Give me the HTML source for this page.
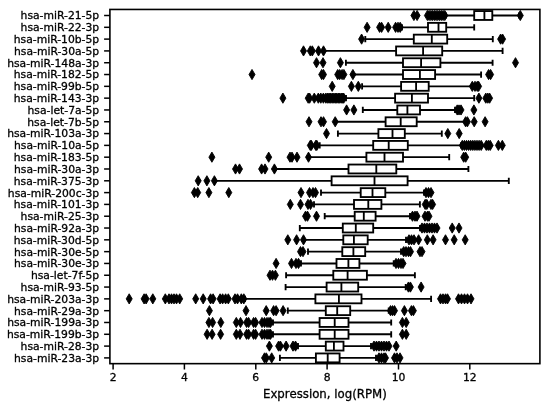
<!DOCTYPE html>
<html><head><meta charset="utf-8"><title>Expression boxplot</title>
<style>html,body{margin:0;padding:0;background:#fff}svg{display:block}text{stroke:#000;stroke-width:0.3px}</style></head>
<body>
<svg width="550" height="406" viewBox="0 0 550 406" font-family="'DejaVu Sans', 'Liberation Sans', sans-serif" fill="#000">
<rect width="550" height="406" fill="#fff"/>
<defs><polygon id="d" points="0,-5.10 3.00,0 0,5.10 -3.00,0" fill="#000" stroke="#000" stroke-width="0.9" stroke-linejoin="miter"/></defs>
<g><path d="M446.0 15.50H474.2M492.4 15.50H519.0M446.0 12.40v6.2M519.0 12.40v6.2" stroke="#000" stroke-width="1.85" fill="none"/><rect x="474.2" y="11.05" width="18.1" height="8.9" fill="#fff" stroke="#000" stroke-width="1.85"/><path d="M484.4 11.05v8.9" stroke="#000" stroke-width="1.85"/><use href="#d" x="413.9" y="15.50"/><use href="#d" x="417.1" y="15.50"/><use href="#d" x="427.4" y="15.50"/><use href="#d" x="429.1" y="15.50"/><use href="#d" x="430.9" y="15.50"/><use href="#d" x="432.6" y="15.50"/><use href="#d" x="434.4" y="15.50"/><use href="#d" x="436.1" y="15.50"/><use href="#d" x="437.8" y="15.50"/><use href="#d" x="439.6" y="15.50"/><use href="#d" x="441.3" y="15.50"/><use href="#d" x="443.1" y="15.50"/><use href="#d" x="444.8" y="15.50"/><use href="#d" x="520.3" y="15.50"/></g>
<g><path d="M402.0 27.31H428.0M446.1 27.31H474.2M402.0 24.21v6.2M474.2 24.21v6.2" stroke="#000" stroke-width="1.85" fill="none"/><rect x="428.0" y="22.86" width="18.2" height="8.9" fill="#fff" stroke="#000" stroke-width="1.85"/><path d="M438.5 22.86v8.9" stroke="#000" stroke-width="1.85"/><use href="#d" x="367.1" y="27.31"/><use href="#d" x="379.6" y="27.31"/><use href="#d" x="381.6" y="27.31"/><use href="#d" x="388.2" y="27.31"/><use href="#d" x="395.6" y="27.31"/><use href="#d" x="398.0" y="27.31"/><use href="#d" x="400.2" y="27.31"/></g>
<g><path d="M365.3 39.11H413.8M447.1 39.11H492.8M365.3 36.01v6.2M492.8 36.01v6.2" stroke="#000" stroke-width="1.85" fill="none"/><rect x="413.8" y="34.66" width="33.4" height="8.9" fill="#fff" stroke="#000" stroke-width="1.85"/><path d="M431.8 34.66v8.9" stroke="#000" stroke-width="1.85"/><use href="#d" x="361.6" y="39.11"/><use href="#d" x="500.6" y="39.11"/><use href="#d" x="502.6" y="39.11"/></g>
<g><path d="M323.5 50.92H396.1M442.1 50.92H502.6M323.5 47.82v6.2M502.6 47.82v6.2" stroke="#000" stroke-width="1.85" fill="none"/><rect x="396.1" y="46.47" width="46.1" height="8.9" fill="#fff" stroke="#000" stroke-width="1.85"/><path d="M423.1 46.47v8.9" stroke="#000" stroke-width="1.85"/><use href="#d" x="303.5" y="50.92"/><use href="#d" x="310.3" y="50.92"/><use href="#d" x="312.3" y="50.92"/><use href="#d" x="318.5" y="50.92"/><use href="#d" x="323.5" y="50.92"/></g>
<g><path d="M345.9 62.73H403.0M440.4 62.73H492.6M345.9 59.63v6.2M492.6 59.63v6.2" stroke="#000" stroke-width="1.85" fill="none"/><rect x="403.0" y="58.28" width="37.4" height="8.9" fill="#fff" stroke="#000" stroke-width="1.85"/><path d="M421.1 58.28v8.9" stroke="#000" stroke-width="1.85"/><use href="#d" x="316.5" y="62.73"/><use href="#d" x="323.0" y="62.73"/><use href="#d" x="340.4" y="62.73"/><use href="#d" x="515.5" y="62.73"/></g>
<g><path d="M353.0 74.53H403.0M435.2 74.53H481.1M353.0 71.44v6.2M481.1 71.44v6.2" stroke="#000" stroke-width="1.85" fill="none"/><rect x="403.0" y="70.08" width="32.1" height="8.9" fill="#fff" stroke="#000" stroke-width="1.85"/><path d="M419.9 70.08v8.9" stroke="#000" stroke-width="1.85"/><use href="#d" x="252.0" y="74.53"/><use href="#d" x="321.7" y="74.53"/><use href="#d" x="323.5" y="74.53"/><use href="#d" x="337.7" y="74.53"/><use href="#d" x="339.7" y="74.53"/><use href="#d" x="342.1" y="74.53"/><use href="#d" x="343.9" y="74.53"/><use href="#d" x="352.9" y="74.53"/><use href="#d" x="488.6" y="74.53"/><use href="#d" x="490.6" y="74.53"/></g>
<g><path d="M362.1 86.34H401.1M428.7 86.34H472.7M362.1 83.24v6.2M472.7 83.24v6.2" stroke="#000" stroke-width="1.85" fill="none"/><rect x="401.1" y="81.89" width="27.6" height="8.9" fill="#fff" stroke="#000" stroke-width="1.85"/><path d="M416.1 81.89v8.9" stroke="#000" stroke-width="1.85"/><use href="#d" x="332.2" y="86.34"/><use href="#d" x="351.4" y="86.34"/><use href="#d" x="358.3" y="86.34"/><use href="#d" x="472.3" y="86.34"/><use href="#d" x="475.0" y="86.34"/><use href="#d" x="477.3" y="86.34"/><use href="#d" x="478.6" y="86.34"/></g>
<g><path d="M346.0 98.15H395.1M427.9 98.15H474.2M346.0 95.05v6.2M474.2 95.05v6.2" stroke="#000" stroke-width="1.85" fill="none"/><rect x="395.1" y="93.70" width="32.9" height="8.9" fill="#fff" stroke="#000" stroke-width="1.85"/><path d="M411.9 93.70v8.9" stroke="#000" stroke-width="1.85"/><use href="#d" x="282.9" y="98.15"/><use href="#d" x="308.2" y="98.15"/><use href="#d" x="309.6" y="98.15"/><use href="#d" x="314.3" y="98.15"/><use href="#d" x="318.3" y="98.15"/><use href="#d" x="320.8" y="98.15"/><use href="#d" x="323.4" y="98.15"/><use href="#d" x="325.9" y="98.15"/><use href="#d" x="327.7" y="98.15"/><use href="#d" x="329.1" y="98.15"/><use href="#d" x="330.7" y="98.15"/><use href="#d" x="332.2" y="98.15"/><use href="#d" x="333.9" y="98.15"/><use href="#d" x="335.4" y="98.15"/><use href="#d" x="336.8" y="98.15"/><use href="#d" x="338.3" y="98.15"/><use href="#d" x="339.7" y="98.15"/><use href="#d" x="341.2" y="98.15"/><use href="#d" x="342.6" y="98.15"/><use href="#d" x="343.7" y="98.15"/><use href="#d" x="478.9" y="98.15"/><use href="#d" x="485.8" y="98.15"/><use href="#d" x="487.8" y="98.15"/><use href="#d" x="489.6" y="98.15"/></g>
<g><path d="M362.8 109.96H397.3M420.0 109.96H455.0M362.8 106.86v6.2M455.0 106.86v6.2" stroke="#000" stroke-width="1.85" fill="none"/><rect x="397.3" y="105.51" width="22.7" height="8.9" fill="#fff" stroke="#000" stroke-width="1.85"/><path d="M407.4 105.51v8.9" stroke="#000" stroke-width="1.85"/><use href="#d" x="346.6" y="109.96"/><use href="#d" x="353.9" y="109.96"/><use href="#d" x="457.2" y="109.96"/><use href="#d" x="459.0" y="109.96"/><use href="#d" x="461.0" y="109.96"/><use href="#d" x="473.9" y="109.96"/></g>
<g><path d="M335.5 121.76H385.6M416.7 121.76H465.0M335.5 118.66v6.2M465.0 118.66v6.2" stroke="#000" stroke-width="1.85" fill="none"/><rect x="385.6" y="117.31" width="31.1" height="8.9" fill="#fff" stroke="#000" stroke-width="1.85"/><path d="M400.7 117.31v8.9" stroke="#000" stroke-width="1.85"/><use href="#d" x="309.0" y="121.76"/><use href="#d" x="321.0" y="121.76"/><use href="#d" x="323.5" y="121.76"/><use href="#d" x="335.2" y="121.76"/><use href="#d" x="465.6" y="121.76"/><use href="#d" x="467.4" y="121.76"/><use href="#d" x="474.2" y="121.76"/><use href="#d" x="485.1" y="121.76"/></g>
<g><path d="M337.9 133.57H378.4M404.8 133.57H441.8M337.9 130.47v6.2M441.8 130.47v6.2" stroke="#000" stroke-width="1.85" fill="none"/><rect x="378.4" y="129.12" width="26.4" height="8.9" fill="#fff" stroke="#000" stroke-width="1.85"/><path d="M392.5 129.12v8.9" stroke="#000" stroke-width="1.85"/><use href="#d" x="326.5" y="133.57"/><use href="#d" x="447.8" y="133.57"/><use href="#d" x="459.2" y="133.57"/></g>
<g><path d="M319.7 145.38H373.2M407.8 145.38H461.0M319.7 142.28v6.2M461.0 142.28v6.2" stroke="#000" stroke-width="1.85" fill="none"/><rect x="373.2" y="140.93" width="34.6" height="8.9" fill="#fff" stroke="#000" stroke-width="1.85"/><path d="M388.7 140.93v8.9" stroke="#000" stroke-width="1.85"/><use href="#d" x="310.3" y="145.38"/><use href="#d" x="311.3" y="145.38"/><use href="#d" x="315.8" y="145.38"/><use href="#d" x="316.8" y="145.38"/><use href="#d" x="462.3" y="145.38"/><use href="#d" x="464.4" y="145.38"/><use href="#d" x="466.5" y="145.38"/><use href="#d" x="468.6" y="145.38"/><use href="#d" x="470.7" y="145.38"/><use href="#d" x="472.8" y="145.38"/><use href="#d" x="474.9" y="145.38"/><use href="#d" x="477.0" y="145.38"/><use href="#d" x="479.1" y="145.38"/><use href="#d" x="481.2" y="145.38"/><use href="#d" x="486.3" y="145.38"/><use href="#d" x="488.3" y="145.38"/><use href="#d" x="490.2" y="145.38"/><use href="#d" x="498.4" y="145.38"/><use href="#d" x="502.3" y="145.38"/></g>
<g><path d="M309.0 157.18H366.4M403.0 157.18H449.2M309.0 154.08v6.2M449.2 154.08v6.2" stroke="#000" stroke-width="1.85" fill="none"/><rect x="366.4" y="152.73" width="36.6" height="8.9" fill="#fff" stroke="#000" stroke-width="1.85"/><path d="M384.5 152.73v8.9" stroke="#000" stroke-width="1.85"/><use href="#d" x="211.9" y="157.18"/><use href="#d" x="268.7" y="157.18"/><use href="#d" x="290.0" y="157.18"/><use href="#d" x="292.0" y="157.18"/><use href="#d" x="297.0" y="157.18"/><use href="#d" x="308.5" y="157.18"/><use href="#d" x="463.7" y="157.18"/><use href="#d" x="465.7" y="157.18"/></g>
<g><path d="M275.0 168.99H348.5M396.3 168.99H468.4M275.0 165.89v6.2M468.4 165.89v6.2" stroke="#000" stroke-width="1.85" fill="none"/><rect x="348.5" y="164.54" width="47.8" height="8.9" fill="#fff" stroke="#000" stroke-width="1.85"/><path d="M376.3 164.54v8.9" stroke="#000" stroke-width="1.85"/><use href="#d" x="235.5" y="168.99"/><use href="#d" x="239.5" y="168.99"/><use href="#d" x="261.6" y="168.99"/><use href="#d" x="265.0" y="168.99"/><use href="#d" x="274.4" y="168.99"/></g>
<g><path d="M215.0 180.80H331.6M407.5 180.80H508.8M215.0 177.70v6.2M508.8 177.70v6.2" stroke="#000" stroke-width="1.85" fill="none"/><rect x="331.6" y="176.35" width="76.0" height="8.9" fill="#fff" stroke="#000" stroke-width="1.85"/><path d="M374.5 176.35v8.9" stroke="#000" stroke-width="1.85"/><use href="#d" x="198.2" y="180.80"/><use href="#d" x="206.9" y="180.80"/><use href="#d" x="214.4" y="180.80"/></g>
<g><path d="M321.0 192.61H360.7M385.4 192.61H424.0M321.0 189.51v6.2M424.0 189.51v6.2" stroke="#000" stroke-width="1.85" fill="none"/><rect x="360.7" y="188.16" width="24.6" height="8.9" fill="#fff" stroke="#000" stroke-width="1.85"/><path d="M372.5 188.16v8.9" stroke="#000" stroke-width="1.85"/><use href="#d" x="194.4" y="192.61"/><use href="#d" x="197.7" y="192.61"/><use href="#d" x="208.9" y="192.61"/><use href="#d" x="228.8" y="192.61"/><use href="#d" x="301.0" y="192.61"/><use href="#d" x="309.5" y="192.61"/><use href="#d" x="313.0" y="192.61"/><use href="#d" x="315.5" y="192.61"/><use href="#d" x="426.0" y="192.61"/><use href="#d" x="428.5" y="192.61"/><use href="#d" x="431.0" y="192.61"/></g>
<g><path d="M314.0 204.41H354.0M381.4 204.41H419.9M314.0 201.31v6.2M419.9 201.31v6.2" stroke="#000" stroke-width="1.85" fill="none"/><rect x="354.0" y="199.96" width="27.4" height="8.9" fill="#fff" stroke="#000" stroke-width="1.85"/><path d="M368.3 199.96v8.9" stroke="#000" stroke-width="1.85"/><use href="#d" x="290.3" y="204.41"/><use href="#d" x="300.5" y="204.41"/><use href="#d" x="308.0" y="204.41"/><use href="#d" x="310.5" y="204.41"/><use href="#d" x="425.2" y="204.41"/><use href="#d" x="426.8" y="204.41"/><use href="#d" x="431.0" y="204.41"/><use href="#d" x="432.6" y="204.41"/></g>
<g><path d="M324.7 216.22H354.7M375.6 216.22H410.0M324.7 213.12v6.2M410.0 213.12v6.2" stroke="#000" stroke-width="1.85" fill="none"/><rect x="354.7" y="211.77" width="20.9" height="8.9" fill="#fff" stroke="#000" stroke-width="1.85"/><path d="M363.8 211.77v8.9" stroke="#000" stroke-width="1.85"/><use href="#d" x="305.5" y="216.22"/><use href="#d" x="307.5" y="216.22"/><use href="#d" x="316.5" y="216.22"/><use href="#d" x="412.5" y="216.22"/><use href="#d" x="415.0" y="216.22"/><use href="#d" x="417.0" y="216.22"/><use href="#d" x="425.0" y="216.22"/><use href="#d" x="427.5" y="216.22"/><use href="#d" x="429.0" y="216.22"/></g>
<g><path d="M299.8 228.03H342.8M373.2 228.03H420.0M299.8 224.93v6.2M420.0 224.93v6.2" stroke="#000" stroke-width="1.85" fill="none"/><rect x="342.8" y="223.58" width="30.4" height="8.9" fill="#fff" stroke="#000" stroke-width="1.85"/><path d="M355.8 223.58v8.9" stroke="#000" stroke-width="1.85"/><use href="#d" x="422.0" y="228.03"/><use href="#d" x="424.5" y="228.03"/><use href="#d" x="427.0" y="228.03"/><use href="#d" x="429.5" y="228.03"/><use href="#d" x="432.0" y="228.03"/><use href="#d" x="434.5" y="228.03"/><use href="#d" x="437.0" y="228.03"/><use href="#d" x="452.2" y="228.03"/><use href="#d" x="459.0" y="228.03"/></g>
<g><path d="M304.0 239.83H343.3M367.7 239.83H406.0M304.0 236.73v6.2M406.0 236.73v6.2" stroke="#000" stroke-width="1.85" fill="none"/><rect x="343.3" y="235.38" width="24.4" height="8.9" fill="#fff" stroke="#000" stroke-width="1.85"/><path d="M353.9 235.38v8.9" stroke="#000" stroke-width="1.85"/><use href="#d" x="287.8" y="239.83"/><use href="#d" x="296.6" y="239.83"/><use href="#d" x="303.5" y="239.83"/><use href="#d" x="409.0" y="239.83"/><use href="#d" x="411.5" y="239.83"/><use href="#d" x="414.0" y="239.83"/><use href="#d" x="418.6" y="239.83"/><use href="#d" x="427.3" y="239.83"/><use href="#d" x="433.1" y="239.83"/><use href="#d" x="445.5" y="239.83"/><use href="#d" x="454.2" y="239.83"/><use href="#d" x="465.2" y="239.83"/></g>
<g><path d="M308.0 251.64H342.3M365.2 251.64H401.0M308.0 248.54v6.2M401.0 248.54v6.2" stroke="#000" stroke-width="1.85" fill="none"/><rect x="342.3" y="247.19" width="22.9" height="8.9" fill="#fff" stroke="#000" stroke-width="1.85"/><path d="M353.4 247.19v8.9" stroke="#000" stroke-width="1.85"/><use href="#d" x="300.5" y="251.64"/><use href="#d" x="303.0" y="251.64"/><use href="#d" x="403.7" y="251.64"/><use href="#d" x="406.0" y="251.64"/><use href="#d" x="408.5" y="251.64"/><use href="#d" x="410.5" y="251.64"/><use href="#d" x="420.0" y="251.64"/><use href="#d" x="422.0" y="251.64"/></g>
<g><path d="M301.0 263.45H336.5M359.5 263.45H393.7M301.0 260.35v6.2M393.7 260.35v6.2" stroke="#000" stroke-width="1.85" fill="none"/><rect x="336.5" y="259.00" width="22.9" height="8.9" fill="#fff" stroke="#000" stroke-width="1.85"/><path d="M348.4 259.00v8.9" stroke="#000" stroke-width="1.85"/><use href="#d" x="276.1" y="263.45"/><use href="#d" x="291.5" y="263.45"/><use href="#d" x="296.0" y="263.45"/><use href="#d" x="298.5" y="263.45"/><use href="#d" x="396.0" y="263.45"/><use href="#d" x="398.5" y="263.45"/><use href="#d" x="401.0" y="263.45"/><use href="#d" x="403.0" y="263.45"/></g>
<g><path d="M286.1 275.25H333.3M366.9 275.25H414.9M286.1 272.15v6.2M414.9 272.15v6.2" stroke="#000" stroke-width="1.85" fill="none"/><rect x="333.3" y="270.80" width="33.6" height="8.9" fill="#fff" stroke="#000" stroke-width="1.85"/><path d="M347.6 270.80v8.9" stroke="#000" stroke-width="1.85"/><use href="#d" x="270.0" y="275.25"/><use href="#d" x="272.5" y="275.25"/><use href="#d" x="275.4" y="275.25"/></g>
<g><path d="M285.6 287.06H326.6M358.2 287.06H405.7M285.6 283.96v6.2M405.7 283.96v6.2" stroke="#000" stroke-width="1.85" fill="none"/><rect x="326.6" y="282.61" width="31.6" height="8.9" fill="#fff" stroke="#000" stroke-width="1.85"/><path d="M341.4 282.61v8.9" stroke="#000" stroke-width="1.85"/><use href="#d" x="408.4" y="287.06"/><use href="#d" x="410.4" y="287.06"/><use href="#d" x="421.1" y="287.06"/></g>
<g><path d="M245.0 298.87H315.4M361.4 298.87H431.1M245.0 295.77v6.2M431.1 295.77v6.2" stroke="#000" stroke-width="1.85" fill="none"/><rect x="315.4" y="294.42" width="46.1" height="8.9" fill="#fff" stroke="#000" stroke-width="1.85"/><path d="M338.9 294.42v8.9" stroke="#000" stroke-width="1.85"/><use href="#d" x="129.2" y="298.87"/><use href="#d" x="144.1" y="298.87"/><use href="#d" x="146.1" y="298.87"/><use href="#d" x="152.8" y="298.87"/><use href="#d" x="165.3" y="298.87"/><use href="#d" x="169.0" y="298.87"/><use href="#d" x="171.5" y="298.87"/><use href="#d" x="174.0" y="298.87"/><use href="#d" x="176.5" y="298.87"/><use href="#d" x="179.7" y="298.87"/><use href="#d" x="195.7" y="298.87"/><use href="#d" x="203.2" y="298.87"/><use href="#d" x="210.6" y="298.87"/><use href="#d" x="213.1" y="298.87"/><use href="#d" x="220.1" y="298.87"/><use href="#d" x="222.6" y="298.87"/><use href="#d" x="225.6" y="298.87"/><use href="#d" x="228.3" y="298.87"/><use href="#d" x="235.0" y="298.87"/><use href="#d" x="237.5" y="298.87"/><use href="#d" x="241.3" y="298.87"/><use href="#d" x="243.8" y="298.87"/><use href="#d" x="440.5" y="298.87"/><use href="#d" x="443.0" y="298.87"/><use href="#d" x="445.5" y="298.87"/><use href="#d" x="447.5" y="298.87"/><use href="#d" x="458.5" y="298.87"/><use href="#d" x="461.5" y="298.87"/><use href="#d" x="464.5" y="298.87"/><use href="#d" x="467.5" y="298.87"/><use href="#d" x="471.0" y="298.87"/></g>
<g><path d="M287.8 310.68H325.8M350.2 310.68H388.7M287.8 307.57v6.2M388.7 307.57v6.2" stroke="#000" stroke-width="1.85" fill="none"/><rect x="325.8" y="306.23" width="24.4" height="8.9" fill="#fff" stroke="#000" stroke-width="1.85"/><path d="M337.2 306.23v8.9" stroke="#000" stroke-width="1.85"/><use href="#d" x="209.4" y="310.68"/><use href="#d" x="246.0" y="310.68"/><use href="#d" x="266.2" y="310.68"/><use href="#d" x="273.6" y="310.68"/><use href="#d" x="276.1" y="310.68"/><use href="#d" x="283.1" y="310.68"/><use href="#d" x="390.5" y="310.68"/><use href="#d" x="392.5" y="310.68"/><use href="#d" x="394.5" y="310.68"/><use href="#d" x="404.4" y="310.68"/><use href="#d" x="411.4" y="310.68"/><use href="#d" x="413.4" y="310.68"/></g>
<g><path d="M273.0 322.48H319.6M348.5 322.48H391.2M273.0 319.38v6.2M391.2 319.38v6.2" stroke="#000" stroke-width="1.85" fill="none"/><rect x="319.6" y="318.03" width="28.9" height="8.9" fill="#fff" stroke="#000" stroke-width="1.85"/><path d="M334.7 318.03v8.9" stroke="#000" stroke-width="1.85"/><use href="#d" x="208.9" y="322.48"/><use href="#d" x="212.6" y="322.48"/><use href="#d" x="220.8" y="322.48"/><use href="#d" x="236.3" y="322.48"/><use href="#d" x="240.5" y="322.48"/><use href="#d" x="246.6" y="322.48"/><use href="#d" x="248.6" y="322.48"/><use href="#d" x="253.6" y="322.48"/><use href="#d" x="255.6" y="322.48"/><use href="#d" x="262.0" y="322.48"/><use href="#d" x="264.5" y="322.48"/><use href="#d" x="267.0" y="322.48"/><use href="#d" x="269.0" y="322.48"/><use href="#d" x="270.5" y="322.48"/><use href="#d" x="402.4" y="322.48"/><use href="#d" x="406.2" y="322.48"/></g>
<g><path d="M273.0 334.29H319.6M348.5 334.29H391.2M273.0 331.19v6.2M391.2 331.19v6.2" stroke="#000" stroke-width="1.85" fill="none"/><rect x="319.6" y="329.84" width="28.9" height="8.9" fill="#fff" stroke="#000" stroke-width="1.85"/><path d="M334.7 329.84v8.9" stroke="#000" stroke-width="1.85"/><use href="#d" x="207.1" y="334.29"/><use href="#d" x="212.1" y="334.29"/><use href="#d" x="220.6" y="334.29"/><use href="#d" x="236.3" y="334.29"/><use href="#d" x="240.0" y="334.29"/><use href="#d" x="246.6" y="334.29"/><use href="#d" x="248.6" y="334.29"/><use href="#d" x="253.6" y="334.29"/><use href="#d" x="255.6" y="334.29"/><use href="#d" x="262.0" y="334.29"/><use href="#d" x="264.5" y="334.29"/><use href="#d" x="267.0" y="334.29"/><use href="#d" x="269.0" y="334.29"/><use href="#d" x="270.5" y="334.29"/><use href="#d" x="402.4" y="334.29"/><use href="#d" x="406.2" y="334.29"/></g>
<g><path d="M298.0 346.10H325.8M343.5 346.10H371.0M298.0 343.00v6.2M371.0 343.00v6.2" stroke="#000" stroke-width="1.85" fill="none"/><rect x="325.8" y="341.65" width="17.7" height="8.9" fill="#fff" stroke="#000" stroke-width="1.85"/><path d="M333.9 341.65v8.9" stroke="#000" stroke-width="1.85"/><use href="#d" x="269.4" y="346.10"/><use href="#d" x="278.6" y="346.10"/><use href="#d" x="280.4" y="346.10"/><use href="#d" x="286.1" y="346.10"/><use href="#d" x="293.0" y="346.10"/><use href="#d" x="295.5" y="346.10"/><use href="#d" x="374.0" y="346.10"/><use href="#d" x="376.5" y="346.10"/><use href="#d" x="379.0" y="346.10"/><use href="#d" x="381.5" y="346.10"/><use href="#d" x="384.0" y="346.10"/><use href="#d" x="386.5" y="346.10"/><use href="#d" x="389.0" y="346.10"/><use href="#d" x="396.2" y="346.10"/></g>
<g><path d="M279.9 357.90H315.9M339.5 357.90H376.0M279.9 354.80v6.2M376.0 354.80v6.2" stroke="#000" stroke-width="1.85" fill="none"/><rect x="315.9" y="353.45" width="23.7" height="8.9" fill="#fff" stroke="#000" stroke-width="1.85"/><path d="M327.7 353.45v8.9" stroke="#000" stroke-width="1.85"/><use href="#d" x="264.5" y="357.90"/><use href="#d" x="266.3" y="357.90"/><use href="#d" x="271.7" y="357.90"/><use href="#d" x="379.0" y="357.90"/><use href="#d" x="381.5" y="357.90"/><use href="#d" x="384.0" y="357.90"/><use href="#d" x="385.5" y="357.90"/><use href="#d" x="394.5" y="357.90"/><use href="#d" x="397.0" y="357.90"/><use href="#d" x="400.0" y="357.90"/></g>
<rect x="109.9" y="9.45" width="430.0" height="354.2" fill="none" stroke="#000" stroke-width="1.6"/>
<path d="M104.1 15.50H109.9" stroke="#000" stroke-width="1.5"/>
<text x="99.2" y="19.40" font-size="10.78" text-anchor="end">hsa-miR-21-5p</text>
<path d="M104.1 27.31H109.9" stroke="#000" stroke-width="1.5"/>
<text x="99.2" y="31.21" font-size="10.78" text-anchor="end">hsa-miR-22-3p</text>
<path d="M104.1 39.11H109.9" stroke="#000" stroke-width="1.5"/>
<text x="99.2" y="43.01" font-size="10.78" text-anchor="end">hsa-miR-10b-5p</text>
<path d="M104.1 50.92H109.9" stroke="#000" stroke-width="1.5"/>
<text x="99.2" y="54.82" font-size="10.78" text-anchor="end">hsa-miR-30a-5p</text>
<path d="M104.1 62.73H109.9" stroke="#000" stroke-width="1.5"/>
<text x="99.2" y="66.63" font-size="10.78" text-anchor="end">hsa-miR-148a-3p</text>
<path d="M104.1 74.53H109.9" stroke="#000" stroke-width="1.5"/>
<text x="99.2" y="78.44" font-size="10.78" text-anchor="end">hsa-miR-182-5p</text>
<path d="M104.1 86.34H109.9" stroke="#000" stroke-width="1.5"/>
<text x="99.2" y="90.24" font-size="10.78" text-anchor="end">hsa-miR-99b-5p</text>
<path d="M104.1 98.15H109.9" stroke="#000" stroke-width="1.5"/>
<text x="99.2" y="102.05" font-size="10.78" text-anchor="end">hsa-miR-143-3p</text>
<path d="M104.1 109.96H109.9" stroke="#000" stroke-width="1.5"/>
<text x="99.2" y="113.86" font-size="10.78" text-anchor="end">hsa-let-7a-5p</text>
<path d="M104.1 121.76H109.9" stroke="#000" stroke-width="1.5"/>
<text x="99.2" y="125.66" font-size="10.78" text-anchor="end">hsa-let-7b-5p</text>
<path d="M104.1 133.57H109.9" stroke="#000" stroke-width="1.5"/>
<text x="99.2" y="137.47" font-size="10.78" text-anchor="end">hsa-miR-103a-3p</text>
<path d="M104.1 145.38H109.9" stroke="#000" stroke-width="1.5"/>
<text x="99.2" y="149.28" font-size="10.78" text-anchor="end">hsa-miR-10a-5p</text>
<path d="M104.1 157.18H109.9" stroke="#000" stroke-width="1.5"/>
<text x="99.2" y="161.08" font-size="10.78" text-anchor="end">hsa-miR-183-5p</text>
<path d="M104.1 168.99H109.9" stroke="#000" stroke-width="1.5"/>
<text x="99.2" y="172.89" font-size="10.78" text-anchor="end">hsa-miR-30a-3p</text>
<path d="M104.1 180.80H109.9" stroke="#000" stroke-width="1.5"/>
<text x="99.2" y="184.70" font-size="10.78" text-anchor="end">hsa-miR-375-3p</text>
<path d="M104.1 192.61H109.9" stroke="#000" stroke-width="1.5"/>
<text x="99.2" y="196.51" font-size="10.78" text-anchor="end">hsa-miR-200c-3p</text>
<path d="M104.1 204.41H109.9" stroke="#000" stroke-width="1.5"/>
<text x="99.2" y="208.31" font-size="10.78" text-anchor="end">hsa-miR-101-3p</text>
<path d="M104.1 216.22H109.9" stroke="#000" stroke-width="1.5"/>
<text x="99.2" y="220.12" font-size="10.78" text-anchor="end">hsa-miR-25-3p</text>
<path d="M104.1 228.03H109.9" stroke="#000" stroke-width="1.5"/>
<text x="99.2" y="231.93" font-size="10.78" text-anchor="end">hsa-miR-92a-3p</text>
<path d="M104.1 239.83H109.9" stroke="#000" stroke-width="1.5"/>
<text x="99.2" y="243.73" font-size="10.78" text-anchor="end">hsa-miR-30d-5p</text>
<path d="M104.1 251.64H109.9" stroke="#000" stroke-width="1.5"/>
<text x="99.2" y="255.54" font-size="10.78" text-anchor="end">hsa-miR-30e-5p</text>
<path d="M104.1 263.45H109.9" stroke="#000" stroke-width="1.5"/>
<text x="99.2" y="267.35" font-size="10.78" text-anchor="end">hsa-miR-30e-3p</text>
<path d="M104.1 275.25H109.9" stroke="#000" stroke-width="1.5"/>
<text x="99.2" y="279.15" font-size="10.78" text-anchor="end">hsa-let-7f-5p</text>
<path d="M104.1 287.06H109.9" stroke="#000" stroke-width="1.5"/>
<text x="99.2" y="290.96" font-size="10.78" text-anchor="end">hsa-miR-93-5p</text>
<path d="M104.1 298.87H109.9" stroke="#000" stroke-width="1.5"/>
<text x="99.2" y="302.77" font-size="10.78" text-anchor="end">hsa-miR-203a-3p</text>
<path d="M104.1 310.68H109.9" stroke="#000" stroke-width="1.5"/>
<text x="99.2" y="314.57" font-size="10.78" text-anchor="end">hsa-miR-29a-3p</text>
<path d="M104.1 322.48H109.9" stroke="#000" stroke-width="1.5"/>
<text x="99.2" y="326.38" font-size="10.78" text-anchor="end">hsa-miR-199a-3p</text>
<path d="M104.1 334.29H109.9" stroke="#000" stroke-width="1.5"/>
<text x="99.2" y="338.19" font-size="10.78" text-anchor="end">hsa-miR-199b-3p</text>
<path d="M104.1 346.10H109.9" stroke="#000" stroke-width="1.5"/>
<text x="99.2" y="350.00" font-size="10.78" text-anchor="end">hsa-miR-28-3p</text>
<path d="M104.1 357.90H109.9" stroke="#000" stroke-width="1.5"/>
<text x="99.2" y="361.80" font-size="10.78" text-anchor="end">hsa-miR-23a-3p</text>
<path d="M113.1 363.7v5.8" stroke="#000" stroke-width="1.5"/>
<text x="113.1" y="381.4" font-size="10.78" text-anchor="middle">2</text>
<path d="M184.4 363.7v5.8" stroke="#000" stroke-width="1.5"/>
<text x="184.4" y="381.4" font-size="10.78" text-anchor="middle">4</text>
<path d="M255.8 363.7v5.8" stroke="#000" stroke-width="1.5"/>
<text x="255.8" y="381.4" font-size="10.78" text-anchor="middle">6</text>
<path d="M327.1 363.7v5.8" stroke="#000" stroke-width="1.5"/>
<text x="327.1" y="381.4" font-size="10.78" text-anchor="middle">8</text>
<path d="M398.5 363.7v5.8" stroke="#000" stroke-width="1.5"/>
<text x="398.5" y="381.4" font-size="10.78" text-anchor="middle">10</text>
<path d="M469.8 363.7v5.8" stroke="#000" stroke-width="1.5"/>
<text x="469.8" y="381.4" font-size="10.78" text-anchor="middle">12</text>
<text x="324.9" y="397.9" font-size="11.77" text-anchor="middle">Expression, log(RPM)</text>
</svg>
</body></html>
